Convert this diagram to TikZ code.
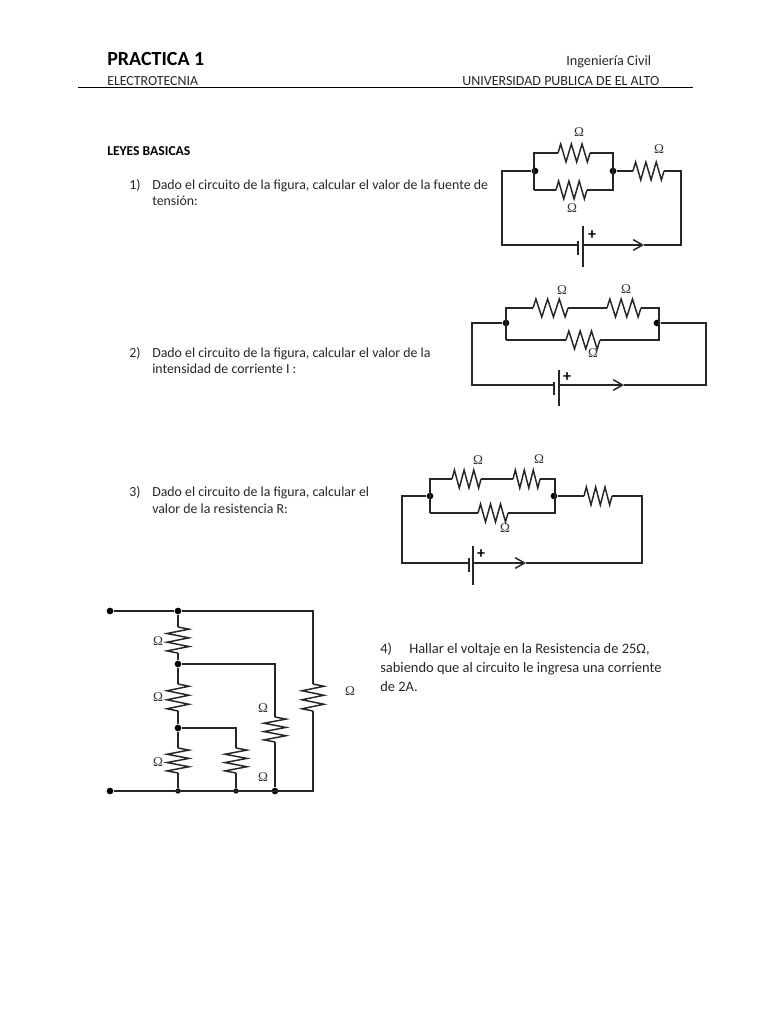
\documentclass[tikz,border=0pt]{standalone}
\usepackage{fontspec}
\setmainfont{Carlito}
\newfontfamily\ohmfont{Liberation Serif}
\usetikzlibrary{arrows.meta}

\begin{document}
\begin{tikzpicture}[x=0.75pt,y=-0.75pt,
txt/.style={anchor=base west,inner sep=0pt,text=black!85,font=\fontsize{10.4}{12}\selectfont},
big/.style={txt,font=\fontsize{10.85}{12}\selectfont},
wire/.style={line width=1.1pt,black!85},
arrowwire/.style={wire,-{Straight Barb[length=7pt,width=8pt]}},
zig/.pic={\draw[wire] (0,0) -- (1,-9) -- (3,9) -- (5,-9) -- (7,9) -- (9,-9) -- (11,9) -- (12,0);
  \coordinate (-a) at (0,0); \coordinate (-b) at (12,0);},
vzig/.pic={\draw[wire] (0,0) -- (11,1) -- (-11,3) -- (11,5) -- (-11,7) -- (11,9) -- (-11,11) -- (0,12);
  \coordinate (-a) at (0,0); \coordinate (-b) at (0,12);},
dot/.style={circle,fill=black,inner sep=0pt,minimum size=5pt},
plate/.style={fill=black!85,inner sep=0pt,minimum width=1.1pt,minimum height=#1},
ohm/.style={inner sep=0pt,font=\ohmfont\fontsize{10}{10}\selectfont,black!80},
plus/.style={inner sep=0pt,font=\bfseries\fontsize{12}{12}\selectfont}]
\useasboundingbox (0,0) rectangle (768,1024);

% header
\node[txt,text=black,font=\bfseries\fontsize{15}{16}\selectfont] (title) at (107,65) {PRACTICA 1};
\node[txt,font=\fontsize{10.7}{12}\selectfont] (fac) at (566,65) {Ingeniería Civil};
\node[txt] (sub) at (107,85) {ELECTROTECNIA};
\node[txt,font=\fontsize{10.5}{12}\selectfont] (uni) at (462,85) {UNIVERSIDAD PUBLICA DE EL ALTO};
\coordinate (ruleL) at (78,87);
\coordinate (ruleR) at (693,87);
\draw[line width=0.6pt] (ruleL) -- (ruleR);

% texts
\node[txt,text=black,font=\bfseries\fontsize{10.2}{12}\selectfont] (leyes) at (107,155) {LEYES BASICAS};
\node[txt] (n1) at (129,189) {1)};
\node[txt] (t1a) at (152,189) {Dado el circuito de la figura, calcular el valor de la fuente de};
\node[txt] (t1b) at (152,205) {tensión:};
\node[txt] (n2) at (129,357) {2)};
\node[txt] (t2a) at (152,357) {Dado el circuito de la figura, calcular el valor de la};
\node[txt] (t2b) at (152,373) {intensidad de corriente I :};
\node[txt] (n3) at (129,496) {3)};
\node[txt] (t3a) at (152,496) {Dado el circuito de la figura, calcular el};
\node[txt] (t3b) at (152,513) {valor de la resistencia R:};
\node[big] (n4) at (380,653) {4)};
\node[big] (t4a) at (409,653) {Hallar el voltaje en la Resistencia de 25Ω,};
\node[big] (t4b) at (380,672) {sabiendo que al circuito le ingresa una corriente};
\node[big] (t4c) at (380,691) {de 2A.};

% circuit 1
\node[dot] (aL) at (535,171) {};
\node[dot] (aR) at (613,171) {};
\coordinate (aTL) at (534,153);
\coordinate (aTR) at (613,153);
\coordinate (aBL) at (534,190);
\coordinate (aBR) at (613,190);
\coordinate (aO) at (502,171);
\coordinate (aE) at (681,171);
\coordinate (aSW) at (502,245);
\coordinate (aSE) at (681,245);
\coordinate (aTip) at (644,245);
\pic (aR1) [xscale=2.67] at (558,153) {zig};
\pic (aR2) [xscale=2.58] at (556,190) {zig};
\pic (aR3) [xscale=2.58] at (633,171) {zig};
\node[plate=10.5pt] (aP1) at (578,248) {};
\node[plate=31pt] (aP2) at (583,246.5) {};
\draw[wire] (aBL) -- (aTL) -- (aR1-a); %top branch
\draw[wire] (aR1-b) -- (aTR) -- (aBR) -- (aR2-b); %bottom branch
\draw[wire] (aR2-a) -- (aBL);
\draw[wire] (aL) -- (aO) -- (aSW) -- (aP1.west |- aSW);
\draw[wire] (aR) -- (aR3-a);
\draw[wire] (aR3-b) -- (aE) -- (aSE) -- (aTip);
\draw[arrowwire] (aP2.east |- aTip) -- (aTip);
\node[plus] (aPlus) at (592,235) {+};
\node[ohm] (aO1) at (579,132) {Ω};
\node[ohm] (aO2) at (659,149) {Ω};
\node[ohm] (aO3) at (572,208) {Ω};

% circuit 2
\node[dot] (bL) at (506,323) {};
\node[dot] (bR) at (657,323) {};
\coordinate (bTL) at (506,308);
\coordinate (bTR) at (659,308);
\coordinate (bBL) at (506,340);
\coordinate (bBR) at (659,340);
\coordinate (bO) at (472,323);
\coordinate (bE) at (706,323);
\coordinate (bSW) at (472,385);
\coordinate (bSE) at (706,385);
\coordinate (bTip) at (624,385);
\pic (bR1) [xscale=2.92] at (533,308) {zig};
\pic (bR2) [xscale=2.83] at (607,308) {zig};
\pic (bR3) [xscale=2.83] at (566,340) {zig};
\node[plate=10pt] (bP1) at (554,388.5) {};
\node[plate=27pt] (bP2) at (559,388) {};
\draw[wire] (bBL) -- (bTL) -- (bR1-a);
\draw[wire] (bR1-b) -- (bR2-a);
\draw[wire] (bR2-b) -- (bTR) -- (bBR) -- (bR3-b);
\draw[wire] (bR3-a) -- (bBL);
\draw[wire] (bL) -- (bO) -- (bSW) -- (bP1.west |- bSW);
\draw[wire] (bR) -- (bE) -- (bSE) -- (bTip);
\draw[arrowwire] (bP2.east |- bTip) -- (bTip);
\node[plus] (bPlus) at (567,377) {+};
\node[ohm] (bO1) at (562,290) {Ω};
\node[ohm] (bO2) at (626,289) {Ω};
\node[ohm] (bO3) at (593,353) {Ω};

% circuit 3
\node[dot] (cL) at (430,496) {};
\node[dot] (cR) at (554,496) {};
\coordinate (cTL) at (430,479);
\coordinate (cTR) at (555,479);
\coordinate (cBL) at (430,513);
\coordinate (cBR) at (555,513);
\coordinate (cO) at (402,496);
\coordinate (cE) at (642,496);
\coordinate (cSW) at (402,563);
\coordinate (cSE) at (642,563);
\coordinate (cTip) at (526,563);
\pic (cR1) [xscale=2.42] at (452,479) {zig};
\pic (cR2) [xscale=2.25] at (513,479) {zig};
\pic (cR3) [xscale=2.5] at (478,513) {zig};
\pic (cR4) [xscale=2.33] at (584,496) {zig};
\node[plate=10.5pt] (cP1) at (469,565) {};
\node[plate=29pt] (cP2) at (473,565.5) {};
\draw[wire] (cBL) -- (cTL) -- (cR1-a);
\draw[wire] (cR1-b) -- (cR2-a);
\draw[wire] (cR2-b) -- (cTR) -- (cBR) -- (cR3-b);
\draw[wire] (cR3-a) -- (cBL);
\draw[wire] (cL) -- (cO) -- (cSW) -- (cP1.west |- cSW);
\draw[wire] (cR) -- (cR4-a);
\draw[wire] (cR4-b) -- (cE) -- (cSE) -- (cTip);
\draw[arrowwire] (cP2.east |- cTip) -- (cTip);
\node[plus] (cPlus) at (481,554) {+};
\node[ohm] (cO1) at (478,460) {Ω};
\node[ohm] (cO2) at (539,459) {Ω};
\node[ohm] (cO3) at (505,528) {Ω};

% circuit 4
\node[dot] (dI) at (110,611) {};
\node[dot] (dT) at (178,611) {};
\node[dot] (dA) at (178,664) {};
\node[dot] (dB) at (178,728) {};
\node[dot] (dJ) at (110,791) {};
\node[dot,minimum size=4pt] (d1) at (178,791) {};
\node[dot,minimum size=4pt] (d2) at (236,791) {};
\node[dot] (d3) at (275,791) {};
\coordinate (dNE) at (313,611);
\coordinate (dSE) at (313,791);
\coordinate (dA2) at (275,664);
\coordinate (dB2) at (236,728);
\pic (dR1) [yscale=2.17] at (178,627) {vzig};
\pic (dR2) [yscale=2.25] at (178,684) {vzig};
\pic (dR3) [yscale=2.08] at (178,748) {vzig};
\pic (dR4) [yscale=2.08] at (236,748) {vzig};
\pic (dR5) [yscale=2.08] at (275,717) {vzig};
\pic (dR6) [yscale=2.25] at (313,684) {vzig};
\draw[wire] (dI) -- (dT) -- (dNE) -- (dR6-a); %top
\draw[wire] (dR6-b) -- (dSE) -- (dJ);
\draw[wire] (dT) -- (dR1-a);
\draw[wire] (dR1-b) -- (dA);
\draw[wire] (dA) -- (dR2-a);
\draw[wire] (dR2-b) -- (dB);
\draw[wire] (dB) -- (dR3-a);
\draw[wire] (dR3-b) -- (d1);
\draw[wire] (dB) -- (dB2) -- (dR4-a);
\draw[wire] (dR4-b) -- (d2);
\draw[wire] (dA) -- (dA2) -- (dR5-a);
\draw[wire] (dR5-b) -- (d3);
\node[ohm] (dO1) at (158,641) {Ω};
\node[ohm] (dO2) at (158,697) {Ω};
\node[ohm] (dO3) at (158,762) {Ω};
\node[ohm] (dO4) at (263,708) {Ω};
\node[ohm] (dO5) at (263,777) {Ω};
\node[ohm] (dO6) at (350,691) {Ω};

\end{tikzpicture}
\end{document}
